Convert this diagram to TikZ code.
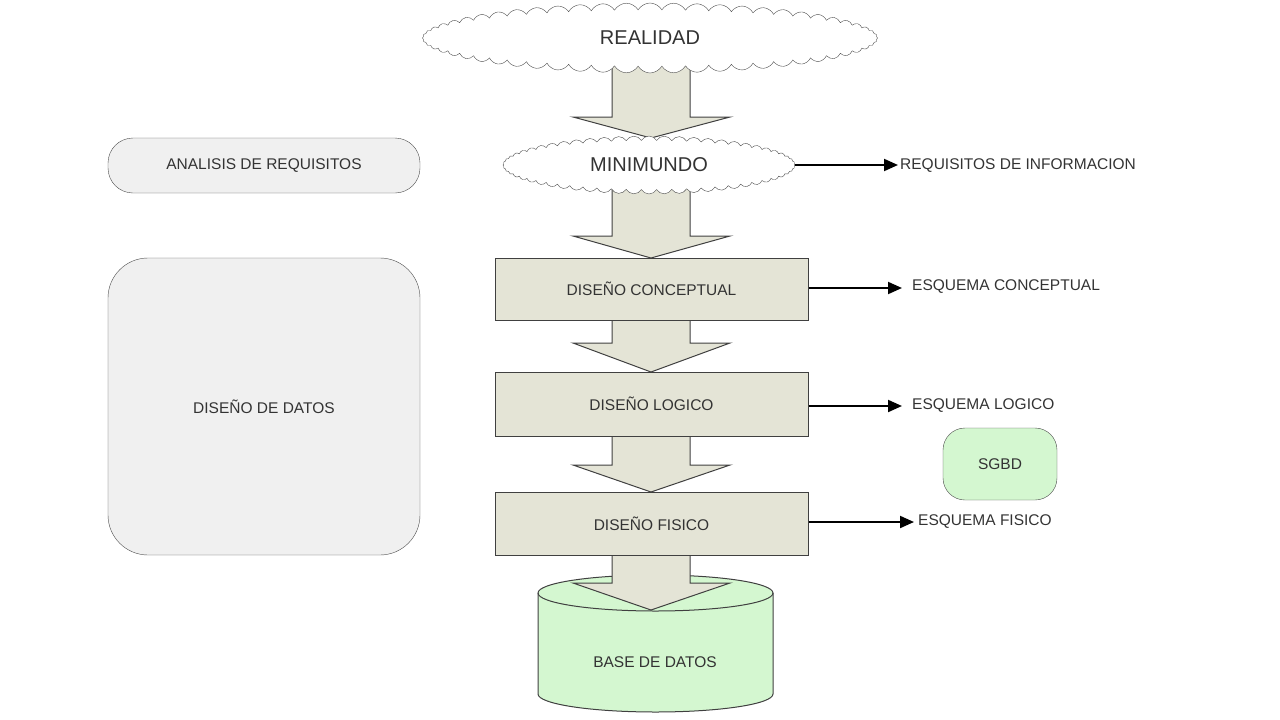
\documentclass[tikz,border=0pt]{standalone}
\usepackage{fontspec}
\setmainfont{Liberation Sans}
\usetikzlibrary{shapes.symbols,arrows.meta}
\definecolor{beige}{HTML}{E4E4D6}
\definecolor{lgray}{HTML}{F0F0F0}
\definecolor{lgreen}{HTML}{D4F7D0}
\definecolor{txt}{HTML}{333333}
\tikzset{
  every node/.style={text=txt},
  cl/.style={cloud, cloud puffs=60, cloud puff arc=120, cloud ignores aspect, draw=black!70, fill=white, inner sep=0pt, font=\fontsize{20}{24}\selectfont},
  box/.style={draw=black!75, fill=beige, line width=1pt, font=\fontsize{15.5}{19}\selectfont},
  rbox/.style={draw=black!70, fill=lgray, rounded corners=25pt, font=\fontsize{15.5}{19}\selectfont},
  lab/.style={anchor=west, inner sep=0pt, font=\fontsize{15.5}{19}\selectfont},
  thin/.style={line width=2pt, -{Triangle[length=14pt,width=12pt]}},
  big/.style={draw=black!75, fill=beige, line width=1pt}
}
\newcommand{\bigarr}[3]{\draw[big] (612,#1) -- (690,#1) -- (690,#2) -- (730,#2) -- (651,#3) -- (573,#2) -- (612,#2) -- cycle;}
\begin{document}
\begin{tikzpicture}[x=1pt,y=-1pt]
\useasboundingbox (0,0) rectangle (1280,720);
% cylinder
\draw[draw=black!75, fill=lgreen, line width=1pt] (538,593) -- (538,694) arc[start angle=180,end angle=0,x radius=117.5,y radius=18] -- (773,593) arc[start angle=0,end angle=-180,x radius=117.5,y radius=18];
\draw[draw=black!75, line width=1pt] (538,593) arc[start angle=180,end angle=0,x radius=117.5,y radius=18];
\node[font=\fontsize{15.5}{19}\selectfont] (bd) at (655,662) {BASE DE DATOS};
% arrows
\bigarr{64}{117}{138}
\bigarr{188}{236}{258}
\bigarr{320}{343}{372}
\bigarr{436}{465}{492}
\bigarr{555}{583}{610}
% clouds
\node[cl, minimum width=455, minimum height=70] (real) at (650,38) {REALIDAD};
\node[cl, minimum width=292, minimum height=58] (mini) at (649,165) {MINIMUNDO};
% boxes
\node[box, minimum width=313, minimum height=62] (conc) at (651.5,289) {DISEÑO CONCEPTUAL};
\node[box, minimum width=313, minimum height=64] (log) at (651.5,404) {DISEÑO LOGICO};
\node[box, minimum width=313, minimum height=63] (fis) at (651.5,523.5) {DISEÑO FISICO};
% left
\node[rbox, minimum width=312, minimum height=55] (an) at (264,165.5) {ANALISIS DE REQUISITOS};
\node[rbox, rounded corners=40pt, minimum width=312, minimum height=297] (dd) at (264,406.5) {DISEÑO DE DATOS};
\node[draw=black!70, fill=lgreen, rounded corners=22pt, minimum width=114, minimum height=72, font=\fontsize{15.5}{19}\selectfont] (sgbd) at (1000,464) {SGBD};
% labels
\coordinate (e1) at (898,165); \node[lab] (r1) at (900,166) {REQUISITOS DE INFORMACION};
\coordinate (e2) at (902,288); \node[lab] (r2) at (912,287) {ESQUEMA CONCEPTUAL};
\coordinate (e3) at (902,406); \node[lab] (r3) at (912,406) {ESQUEMA LOGICO};
\coordinate (e4) at (914,522); \node[lab] (r4) at (918,522) {ESQUEMA FISICO};
\draw[thin] (mini.east) -- (e1);
\draw[thin] (conc.east |- e2) -- (e2);
\draw[thin] (log.east |- e3) -- (e3);
\draw[thin] (fis.east |- e4) -- (e4);
\end{tikzpicture}
\end{document}
